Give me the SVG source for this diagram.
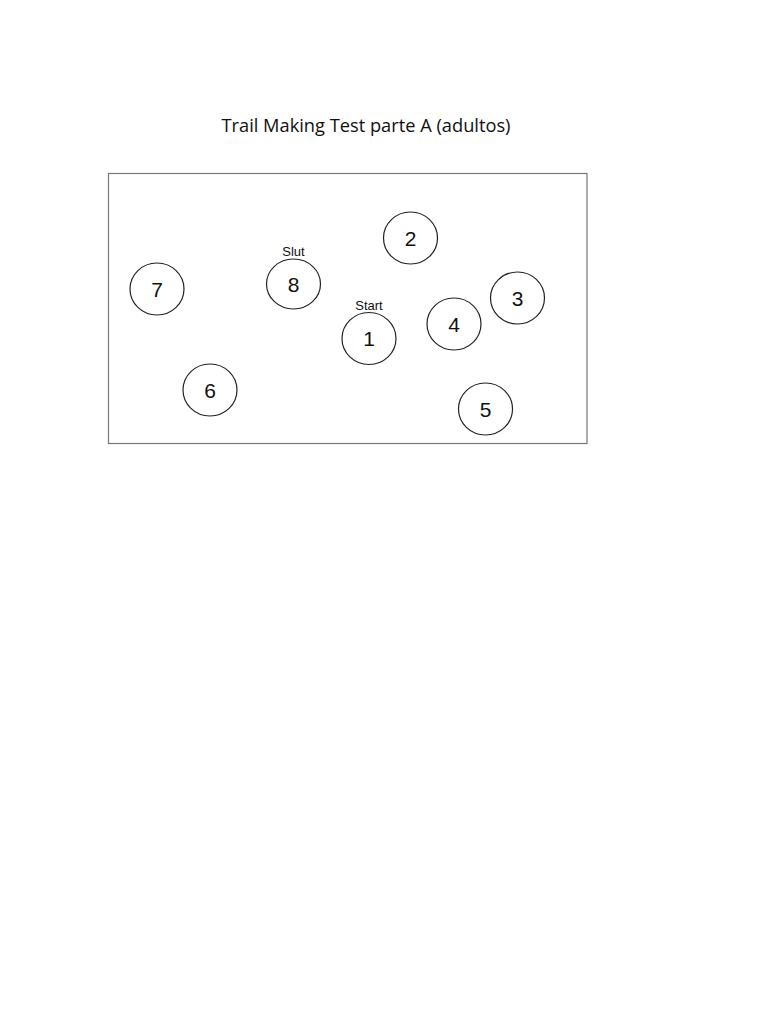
<svg xmlns="http://www.w3.org/2000/svg" width="768" height="1024" viewBox="0 0 768 1024">
<style>
.n{fill:#fff;stroke:#222;stroke-width:1.2}
.t{font-family:"Liberation Sans",Arial,sans-serif;font-size:21px;fill:#111;text-anchor:middle}
.l{font-family:"Liberation Sans",Arial,sans-serif;font-size:13px;fill:#111;text-anchor:middle}
</style>
<rect width="768" height="1024" fill="#fff"/>
<text x="366" y="132" font-family="'Open Sans','Liberation Sans',sans-serif" font-size="18" fill="#111" text-anchor="middle" textLength="289" lengthAdjust="spacingAndGlyphs">Trail Making Test parte A (adultos)</text>
<rect x="108.5" y="173.5" width="478.5" height="270" fill="none" stroke="#777" stroke-width="1.2"/>
<g id="connectors"></g>
<g id="n1"><ellipse class="n" cx="369" cy="338.5" rx="27" ry="26"/><text class="t" x="369" y="346">1</text><text class="l" x="369" y="310">Start</text></g>
<g id="n2"><ellipse class="n" cx="410.5" cy="238" rx="27" ry="26"/><text class="t" x="410.5" y="245.5">2</text></g>
<g id="n3"><ellipse class="n" cx="517.5" cy="298" rx="27" ry="26"/><text class="t" x="517.5" y="305.5">3</text></g>
<g id="n4"><ellipse class="n" cx="454" cy="324" rx="27" ry="26"/><text class="t" x="454" y="331.5">4</text></g>
<g id="n5"><ellipse class="n" cx="485.5" cy="409" rx="27" ry="26"/><text class="t" x="485.5" y="416.5">5</text></g>
<g id="n6"><ellipse class="n" cx="210" cy="390" rx="27" ry="26"/><text class="t" x="210" y="397.5">6</text></g>
<g id="n7"><ellipse class="n" cx="157" cy="289" rx="27" ry="26"/><text class="t" x="157" y="296.5">7</text></g>
<g id="n8"><ellipse class="n" cx="293.5" cy="284" rx="27" ry="25"/><text class="t" x="293.5" y="291.5">8</text><text class="l" x="293.5" y="256">Slut</text></g>
</svg>
